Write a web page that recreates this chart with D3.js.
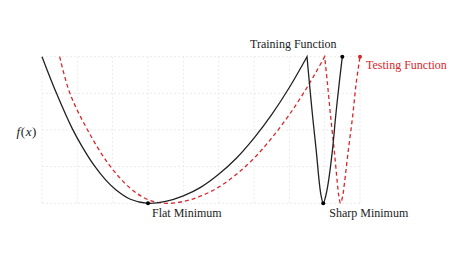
<!DOCTYPE html>
<html>
<head>
<meta charset="utf-8">
<script src="https://cdn.jsdelivr.net/npm/d3@7"></script>
<style>
  html, body { margin: 0; padding: 0; background: #fff; }
  svg { display: block; }
  text { font-family: "Liberation Serif", "DejaVu Serif", serif; }
</style>
</head>
<body>
<svg id="chart" width="474" height="269"></svg>
<script>
// ---- data ----
// training function: wide basin, then narrow basin
const trainFlatX  = [0, 0.41, 0.86, 1.14, 1.47, 1.8, 2.09, 2.5, 3, 3.5, 4, 4.5, 5, 5.5, 6, 6.5, 7, 7.5];
const trainFlatY  = [4, 3.0, 2.03, 1.54, 1.04, 0.64, 0.37, 0.11, 0, 0.05, 0.2, 0.44, 0.79, 1.23, 1.78, 2.42, 3.16, 4];
const trainSharpX = [7.5, 7.57, 7.66, 7.76, 7.85, 7.9, 7.96, 8.03, 8.1, 8.22, 8.31, 8.41, 8.5];
const trainSharpY = [4, 3.26, 2.36, 1.45, 0.55, 0.2, 0, 0.2, 0.55, 1.45, 2.36, 3.26, 4];
// testing function (shifted copy)
const testFlatX  = [0.5, 0.79, 1.29, 1.9, 2.5, 3, 3.5, 4, 4.5, 5, 5.5, 6, 6.5, 7, 7.5, 8];
const testFlatY  = [4, 3.0, 2.0, 1.05, 0.41, 0.1, 0, 0.05, 0.2, 0.44, 0.79, 1.23, 1.78, 2.42, 3.16, 4];
const testSharpX = [8, 8.08, 8.17, 8.27, 8.36, 8.4, 8.45, 8.51, 8.56, 8.67, 8.79, 8.89, 9];
const testSharpY = [4, 3.26, 2.36, 1.45, 0.55, 0.2, 0, 0.2, 0.55, 1.45, 2.36, 3.26, 4];
const trainDotsX = [3, 7.96, 8.5];
const trainDotsY = [0, 0, 4];
const testDotsX = [9];
const testDotsY = [4];
const xTicks = [0, 1, 2, 3, 4, 5, 6, 7, 8, 9];
const yTicks = [0, 1, 2, 3, 4];
const labels = ["Training Function", "Testing Function", "Flat Minimum", "Sharp Minimum"];

// ---- layout ----
const svg = d3.select("#chart");
const x = d3.scaleLinear().domain([0, 9]).range([42, 360]);
const y = d3.scaleLinear().domain([0, 4]).range([203.3, 56.7]);
const black = "#222222";
const red = "#d9262a";

// grid
const grid = svg.append("g");
grid.selectAll("line.v").data(xTicks).join("line")
  .attr("x1", d => x(d)).attr("x2", d => x(d))
  .attr("y1", y(4)).attr("y2", y(0))
  .attr("stroke", "#e6e6e6").attr("stroke-width", 0.8).attr("stroke-dasharray", "2,2");
grid.selectAll("line.h").data(yTicks).join("line")
  .attr("y1", d => y(d)).attr("y2", d => y(d))
  .attr("x1", x(0)).attr("x2", x(9))
  .attr("stroke", "#e6e6e6").attr("stroke-width", 0.8).attr("stroke-dasharray", "2,2");

const line = d3.line().x(d => x(d[0])).y(d => y(d[1])).curve(d3.curveCatmullRom.alpha(0.5));

function seg(xs, ys) { return d3.zip(xs, ys); }
function pathD(a, b) {
  // join two smooth segments into one path (cusp at the shared point)
  return line(a) + line(b).replace(/^M/, "L");
}

// testing function (red dashed)
svg.append("path")
  .attr("d", pathD(seg(testFlatX, testFlatY), seg(testSharpX, testSharpY)))
  .attr("fill", "none").attr("stroke", red).attr("stroke-width", 1.3)
  .attr("stroke-dasharray", "4,3");

// training function (black)
svg.append("path")
  .attr("d", pathD(seg(trainFlatX, trainFlatY), seg(trainSharpX, trainSharpY)))
  .attr("fill", "none").attr("stroke", black).attr("stroke-width", 1.3)
  .attr("stroke-linejoin", "miter");

// dots
svg.selectAll("circle.tr").data(d3.zip(trainDotsX, trainDotsY)).join("circle")
  .attr("cx", d => x(d[0])).attr("cy", d => y(d[1])).attr("r", 2).attr("fill", "#000");
svg.selectAll("circle.te").data(d3.zip(testDotsX, testDotsY)).join("circle")
  .attr("cx", d => x(d[0])).attr("cy", d => y(d[1])).attr("r", 2).attr("fill", red);

// labels
svg.append("text").attr("x", x(7.5) - 57).attr("y", y(4) - 9)
  .attr("font-size", 12).attr("fill", black).text(labels[0]);
svg.append("text").attr("x", x(9) + 6).attr("y", y(4) + 12)
  .attr("font-size", 12).attr("fill", red).text(labels[1]);
svg.append("text").attr("x", x(3) + 4).attr("y", y(0) + 14)
  .attr("font-size", 12).attr("fill", black).text(labels[2]);
svg.append("text").attr("x", x(7.96) + 6).attr("y", y(0) + 14)
  .attr("font-size", 12).attr("fill", black).text(labels[3]);

// y label f(x)
const fl = svg.append("text").attr("x", 16.5).attr("y", 136).attr("font-size", 13)
  .attr("letter-spacing", 0.6).attr("fill", black);
fl.append("tspan").attr("font-style", "italic").text("f");
fl.append("tspan").text("(");
fl.append("tspan").attr("font-style", "italic").text("x");
fl.append("tspan").text(")");
</script>
</body>
</html>
